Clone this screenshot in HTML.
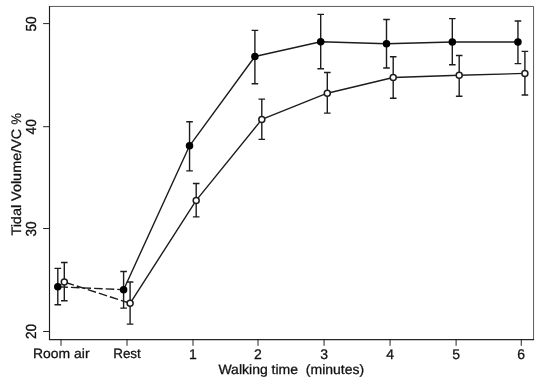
<!DOCTYPE html>
<html><head><meta charset="utf-8"><title>Tidal Volume chart</title>
<style>html,body{margin:0;padding:0;background:#fff}body{width:550px;height:386px;overflow:hidden}</style></head>
<body>
<svg width="550" height="386" viewBox="0 0 550 386" style="display:block">
<rect width="550" height="386" fill="#fff"/>
<path d="M49.5 6.45H533.55V339.5" fill="none" stroke="#4a4a4a" stroke-width="0.9"/>
<path d="M49.5 6.00V339.70" fill="none" stroke="#1c1c1c" stroke-width="1.15"/>
<path d="M48.93 339.65H534.15" fill="none" stroke="#262626" stroke-width="1.35"/>
<path d="M61.00 339.5V345.80M127.00 339.5V345.80M193.00 339.5V345.80M258.00 339.5V345.80M324.05 339.5V345.80M390.05 339.5V345.80M456.10 339.5V345.80M521.25 339.5V345.80M49.5 331.50H43.10M49.5 228.50H43.10M49.5 126.70H43.10M49.5 23.60H43.10" stroke="#1a1a1a" stroke-width="0.95" fill="none"/>
<path d="M57.8 268.4V304.8M54.50 268.4H61.10M54.50 304.8H61.10M123.6 271.5V308.1M120.30 271.5H126.90M120.30 308.1H126.90M189.55 121.8V170.9M186.25 121.8H192.85M186.25 170.9H192.85M254.9 30.4V83.7M251.60 30.4H258.20M251.60 83.7H258.20M320.7 14.4V68.7M317.40 14.4H324.00M317.40 68.7H324.00M386.5 19.5V68.0M383.20 19.5H389.80M383.20 68.0H389.80M452.3 18.6V64.7M449.00 18.6H455.60M449.00 64.7H455.60M517.95 21.0V63.6M514.65 21.0H521.25M514.65 63.6H521.25" stroke="#1c1c1c" stroke-width="1.4" fill="none"/>
<path d="M64.3 262.5V300.7M61.00 262.5H67.60M61.00 300.7H67.60M130.1 282.0V324.1M126.80 282.0H133.40M126.80 324.1H133.40M196.2 183.5V216.9M192.90 183.5H199.50M192.90 216.9H199.50M261.8 99.15V139.35M258.50 99.15H265.10M258.50 139.35H265.10M327.3 72.5V113.1M324.00 72.5H330.60M324.00 113.1H330.60M393.2 56.8V98.3M389.90 56.8H396.50M389.90 98.3H396.50M459.2 55.5V96.3M455.90 55.5H462.50M455.90 96.3H462.50M524.9 51.4V95.0M521.60 51.4H528.20M521.60 95.0H528.20" stroke="#1c1c1c" stroke-width="1.4" fill="none"/>
<path d="M57.8 286.85L123.6 289.7" stroke="#1c1c1c" stroke-width="1.4" stroke-dasharray="8.6 3" stroke-dashoffset="-1.5" fill="none"/><path d="M123.6 289.7L189.55 145.8L254.9 56.5L320.7 41.8L386.5 43.8L452.3 42.0L517.95 42.0" stroke="#1c1c1c" stroke-width="1.4" fill="none" stroke-linejoin="round"/>
<path d="M64.3 282.0L130.1 303.3" stroke="#1c1c1c" stroke-width="1.4" stroke-dasharray="8.6 3" stroke-dashoffset="-1.5" fill="none"/><path d="M130.1 303.3L196.2 200.4L261.8 119.4L327.3 93.2L393.2 77.5L459.2 75.3L524.9 73.4" stroke="#1c1c1c" stroke-width="1.4" fill="none" stroke-linejoin="round"/>
<circle cx="57.8" cy="286.85" r="3.75" fill="#000"/>
<circle cx="123.6" cy="289.7" r="3.75" fill="#000"/>
<circle cx="189.55" cy="145.8" r="3.75" fill="#000"/>
<circle cx="254.9" cy="56.5" r="3.75" fill="#000"/>
<circle cx="320.7" cy="41.8" r="3.75" fill="#000"/>
<circle cx="386.5" cy="43.8" r="3.75" fill="#000"/>
<circle cx="452.3" cy="42.0" r="3.75" fill="#000"/>
<circle cx="517.95" cy="42.0" r="3.75" fill="#000"/>
<circle cx="64.3" cy="282.0" r="3.0" fill="#fff" stroke="#1c1c1c" stroke-width="1.5"/>
<circle cx="130.1" cy="303.3" r="3.0" fill="#fff" stroke="#1c1c1c" stroke-width="1.5"/>
<circle cx="196.2" cy="200.4" r="3.0" fill="#fff" stroke="#1c1c1c" stroke-width="1.5"/>
<circle cx="261.8" cy="119.4" r="3.0" fill="#fff" stroke="#1c1c1c" stroke-width="1.5"/>
<circle cx="327.3" cy="93.2" r="3.0" fill="#fff" stroke="#1c1c1c" stroke-width="1.5"/>
<circle cx="393.2" cy="77.5" r="3.0" fill="#fff" stroke="#1c1c1c" stroke-width="1.5"/>
<circle cx="459.2" cy="75.3" r="3.0" fill="#fff" stroke="#1c1c1c" stroke-width="1.5"/>
<circle cx="524.9" cy="73.4" r="3.0" fill="#fff" stroke="#1c1c1c" stroke-width="1.5"/>
<text transform="translate(61.30 358.4) scale(1.036 1)" font-size="13.45" text-anchor="middle" text-rendering="geometricPrecision" font-family="Liberation Sans, Arial, Helvetica, sans-serif" fill="#111" stroke="#111" stroke-width="0.28">Room air</text>
<text transform="translate(127.00 358.4) scale(1 1)" font-size="13.45" text-anchor="middle" text-rendering="geometricPrecision" font-family="Liberation Sans, Arial, Helvetica, sans-serif" fill="#111" stroke="#111" stroke-width="0.28">Rest</text>
<text transform="translate(193.00 358.65) scale(1 1)" font-size="14.0" text-anchor="middle" text-rendering="geometricPrecision" font-family="Liberation Sans, Arial, Helvetica, sans-serif" fill="#111" stroke="#111" stroke-width="0.28">1</text>
<text transform="translate(258.00 358.65) scale(1 1)" font-size="14.0" text-anchor="middle" text-rendering="geometricPrecision" font-family="Liberation Sans, Arial, Helvetica, sans-serif" fill="#111" stroke="#111" stroke-width="0.28">2</text>
<text transform="translate(324.05 358.65) scale(1 1)" font-size="14.0" text-anchor="middle" text-rendering="geometricPrecision" font-family="Liberation Sans, Arial, Helvetica, sans-serif" fill="#111" stroke="#111" stroke-width="0.28">3</text>
<text transform="translate(390.05 358.65) scale(1 1)" font-size="14.0" text-anchor="middle" text-rendering="geometricPrecision" font-family="Liberation Sans, Arial, Helvetica, sans-serif" fill="#111" stroke="#111" stroke-width="0.28">4</text>
<text transform="translate(456.10 358.65) scale(1 1)" font-size="14.0" text-anchor="middle" text-rendering="geometricPrecision" font-family="Liberation Sans, Arial, Helvetica, sans-serif" fill="#111" stroke="#111" stroke-width="0.28">5</text>
<text transform="translate(521.25 358.65) scale(1 1)" font-size="14.0" text-anchor="middle" text-rendering="geometricPrecision" font-family="Liberation Sans, Arial, Helvetica, sans-serif" fill="#111" stroke="#111" stroke-width="0.28">6</text>
<text transform="translate(36.35 331.50) rotate(-90) scale(1 1.065)" font-size="13.65" text-anchor="middle" text-rendering="geometricPrecision" font-family="Liberation Sans, Arial, Helvetica, sans-serif" fill="#111" stroke="#111" stroke-width="0.28">20</text>
<text transform="translate(36.35 229.00) rotate(-90) scale(1 1.065)" font-size="13.65" text-anchor="middle" text-rendering="geometricPrecision" font-family="Liberation Sans, Arial, Helvetica, sans-serif" fill="#111" stroke="#111" stroke-width="0.28">30</text>
<text transform="translate(36.35 126.80) rotate(-90) scale(1 1.065)" font-size="13.65" text-anchor="middle" text-rendering="geometricPrecision" font-family="Liberation Sans, Arial, Helvetica, sans-serif" fill="#111" stroke="#111" stroke-width="0.28">40</text>
<text transform="translate(36.35 24.00) rotate(-90) scale(1 1.065)" font-size="13.65" text-anchor="middle" text-rendering="geometricPrecision" font-family="Liberation Sans, Arial, Helvetica, sans-serif" fill="#111" stroke="#111" stroke-width="0.28">50</text>
<text transform="translate(291.3 374.1) scale(1.03 1)" font-size="13.6" text-anchor="middle" xml:space="preserve" text-rendering="geometricPrecision" font-family="Liberation Sans, Arial, Helvetica, sans-serif" fill="#111" stroke="#111" stroke-width="0.28">Walking time  (minutes)</text>
<text transform="translate(20.8 235.6) rotate(-90) scale(1 0.95)" font-size="14.41" text-anchor="start" text-rendering="geometricPrecision" font-family="Liberation Sans, Arial, Helvetica, sans-serif" fill="#111" stroke="#111" stroke-width="0.28">Tidal Volume/VC</text>
<text transform="translate(20.8 113.0) rotate(-90) scale(0.885 0.95)" font-size="14.46" text-anchor="end" text-rendering="geometricPrecision" font-family="Liberation Sans, Arial, Helvetica, sans-serif" fill="#111" stroke="#111" stroke-width="0.28">%</text>
</svg>
</body></html>
